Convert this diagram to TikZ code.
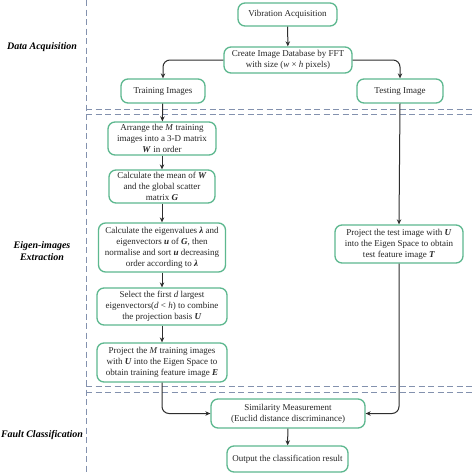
\documentclass[tikz,border=0pt]{standalone}
\usepackage{fontspec}
\setmainfont{Liberation Serif}
\usetikzlibrary{arrows.meta}
\definecolor{boxgreen}{HTML}{5DB88F}
\definecolor{sepblue}{HTML}{8391AE}
\definecolor{arrgray}{HTML}{2E2E2E}
\newcommand{\bi}[1]{\textbf{\textit{#1}}}
\begin{document}
\begin{tikzpicture}[x=1pt,y=-1pt,
  stepbox/.style={draw=boxgreen, line width=1.3pt, rounded corners=7pt, align=center,
     font=\fontsize{9}{11}\selectfont, inner sep=1pt, text=black!85},
  sep/.style={draw=sepblue, line width=1pt, dash pattern=on 6pt off 3.5pt},
  lab/.style={font=\fontsize{10}{12.5}\selectfont\bfseries\itshape, align=center},
  conn/.style={draw=arrgray, line width=1pt, rounded corners=7pt, -{Stealth[length=5pt,width=4.5pt]}}]
\useasboundingbox (0,0) rectangle (474,474);
\fill[white] (0,0) rectangle (474,474);
% separators
\draw[sep] (86,0) -- (86,474);
\draw[sep] (86,109) -- (474,109);
\draw[sep] (86,114.5) -- (474,114.5);
\draw[sep] (86,386.5) -- (474,386.5);
\draw[sep] (86,392) -- (474,392);
% section labels
\node[lab] (l1) at (42,47) {Data Acquisition};
\node[lab] (l2) at (42,251) {Eigen-images\\Extraction};
\node[lab] (l3) at (42,435) {Fault Classification};
% boxes
\node[stepbox, minimum width=99pt, minimum height=23pt] (vib) at (287.5,14.5) {Vibration Acquisition};
\node[stepbox, minimum width=128pt, minimum height=26pt] (create) at (288,60) {Create Image Database by FFT\\with size (\textit{w} × \textit{h} pixels)};
\node[stepbox, minimum width=84pt, minimum height=24pt] (train) at (163,91) {Training Images};
\node[stepbox, minimum width=86pt, minimum height=24pt] (test) at (400,91) {Testing Image};
\node[stepbox, minimum width=108pt, minimum height=33pt] (arr) at (162,138.5) {Arrange the \textit{M} training\\images into a 3-D matrix\\\bi{W} in order};
\node[stepbox, minimum width=106pt, minimum height=33pt] (mean) at (162,186.5) {Calculate the mean of \bi{W}\\and the global scatter\\matrix \bi{G}};
\node[stepbox, minimum width=127pt, minimum height=49pt] (eig) at (162,247.5) {Calculate the eigenvalues \bi{λ} and\\eigenvectors \bi{u} of \bi{G}, then\\normalise and sort \bi{u} decreasing\\order according to \bi{λ}};
\node[stepbox, minimum width=130pt, minimum height=37pt] (sel) at (162,306.5) {Select the first \textit{d} largest\\eigenvectors(\textit{d} < \textit{h}) to combine\\the projection basis \bi{U}};
\node[stepbox, minimum width=130pt, minimum height=39pt] (projM) at (162,362.5) {Project the \textit{M} training images\\with \bi{U} into the Eigen Space to\\obtain training feature image \bi{E}};
\node[stepbox, minimum width=128pt, minimum height=38pt] (projT) at (399,244) {Project the test image with \bi{U}\\into the Eigen Space to obtain\\test feature image \bi{T}};
\node[stepbox, minimum width=154pt, minimum height=29pt] (sim) at (288,413.5) {Similarity Measurement\\(Euclid distance discriminance)};
\node[stepbox, minimum width=121pt, minimum height=26pt] (out) at (287.5,459) {Output the classification result};
% connectors
\draw[conn] (vib) -- (create);
\draw[conn] (create.west) -| (train.north);
\draw[conn] (create.east) -| (test.north);
\draw[conn] (train) -- (arr);
\draw[conn] (arr) -- (mean);
\draw[conn] (mean) -- (eig);
\draw[conn] (eig) -- (sel);
\draw[conn] (sel) -- (projM);
\draw[conn] (test.south) -- (projT.north);
\draw[conn] (projM.south) |- (sim.west);
\draw[conn] (projT.south) |- (sim.east);
\draw[conn] (sim) -- (out);
\end{tikzpicture}
\end{document}
